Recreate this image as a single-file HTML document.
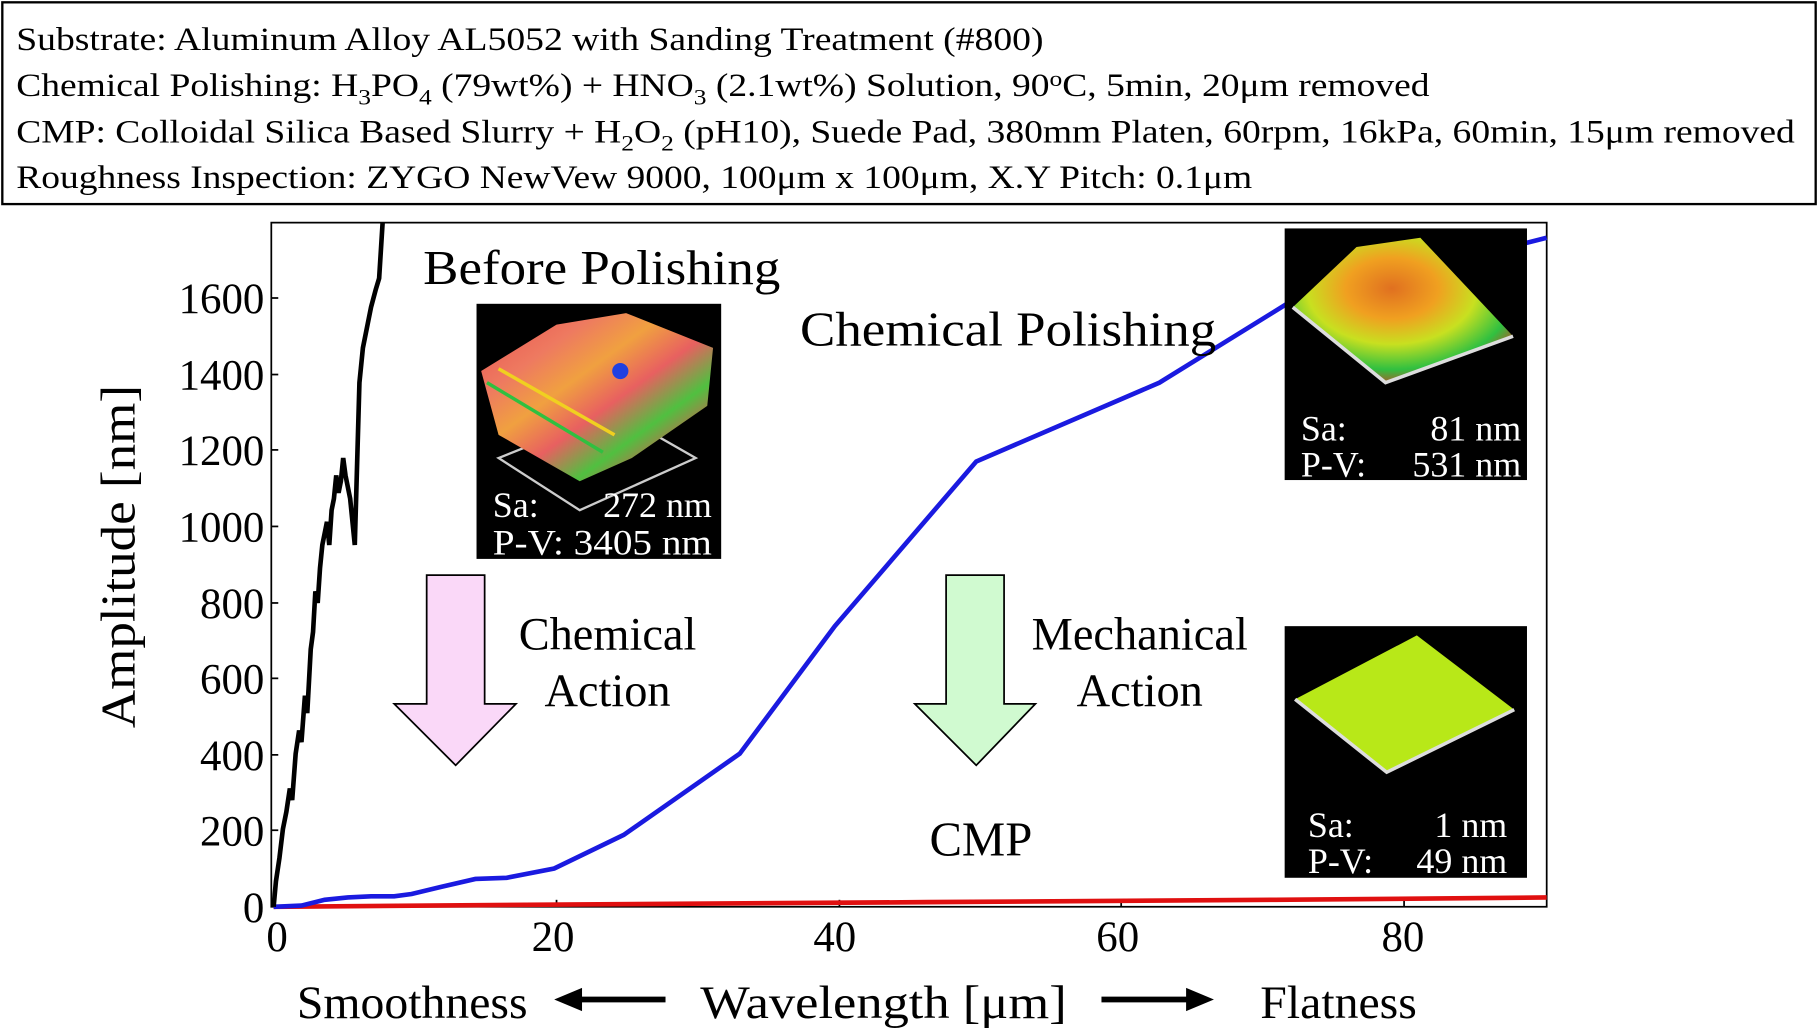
<!DOCTYPE html>
<html><head><meta charset="utf-8"><style>
html,body{margin:0;padding:0;background:#fff;overflow:hidden}
svg{display:block}
text{font-family:"Liberation Serif",serif}
.w{fill:#fff}
</style></head><body>
<svg width="1818" height="1032" viewBox="0 0 1568 890" preserveAspectRatio="none" xmlns="http://www.w3.org/2000/svg">
<defs>
<linearGradient id="rough" x1="0" y1="0" x2="1" y2="1">
<stop offset="0" stop-color="#e85050"/><stop offset="0.25" stop-color="#ee7a60"/><stop offset="0.4" stop-color="#f0a040"/><stop offset="0.55" stop-color="#e86060"/><stop offset="0.7" stop-color="#50c040"/><stop offset="0.85" stop-color="#e05050"/><stop offset="1" stop-color="#2040e0"/>
</linearGradient>
<radialGradient id="chem" cx="0.45" cy="0.35" r="0.7">
<stop offset="0" stop-color="#e07020"/><stop offset="0.3" stop-color="#f0a020"/><stop offset="0.55" stop-color="#c8e020"/><stop offset="0.8" stop-color="#30c040"/><stop offset="1" stop-color="#e03020"/>
</radialGradient>
</defs>
<rect x="2" y="2" width="1564" height="174" fill="#fff" stroke="#000" stroke-width="2"/>
<g font-size="28">
<text x="14" y="43" textLength="886" lengthAdjust="spacingAndGlyphs">Substrate:  Aluminum Alloy AL5052 with Sanding Treatment (#800)</text>
<text x="14" y="83" textLength="1219" lengthAdjust="spacingAndGlyphs">Chemical Polishing:  H<tspan font-size="19" dy="7">3</tspan><tspan dy="-7">PO</tspan><tspan font-size="19" dy="7">4</tspan><tspan dy="-7"> (79wt%) + HNO</tspan><tspan font-size="19" dy="7">3</tspan><tspan dy="-7"> (2.1wt%) Solution, 90</tspan><tspan font-size="19" dy="-9">o</tspan><tspan dy="9">C, 5min, 20μm removed</tspan></text>
<text x="14" y="123" textLength="1534" lengthAdjust="spacingAndGlyphs">CMP:  Colloidal Silica Based Slurry + H<tspan font-size="19" dy="7">2</tspan><tspan dy="-7">O</tspan><tspan font-size="19" dy="7">2</tspan><tspan dy="-7"> (pH10), Suede Pad, 380mm Platen, 60rpm, 16kPa, 60min, 15μm removed</tspan></text>
<text x="14" y="162" textLength="1066" lengthAdjust="spacingAndGlyphs">Roughness Inspection: ZYGO NewVew 9000, 100μm x 100μm, X.Y Pitch: 0.1μm</text>
</g>
<rect x="234" y="192" width="1100" height="590" fill="none" stroke="#000" stroke-width="1.5"/>
<g stroke="#000" stroke-width="1.5">
<line x1="234" y1="257" x2="240" y2="257"/><line x1="234" y1="323" x2="240" y2="323"/><line x1="234" y1="388" x2="240" y2="388"/><line x1="234" y1="454" x2="240" y2="454"/><line x1="234" y1="520" x2="240" y2="520"/><line x1="234" y1="585" x2="240" y2="585"/><line x1="234" y1="651" x2="240" y2="651"/><line x1="234" y1="716" x2="240" y2="716"/>
<line x1="480" y1="782" x2="480" y2="776"/><line x1="724" y1="782" x2="724" y2="776"/><line x1="967" y1="782" x2="967" y2="776"/><line x1="1211" y1="782" x2="1211" y2="776"/>
</g>
<g font-size="37" text-anchor="end">
<text x="228" y="270">1600</text><text x="228" y="336">1400</text><text x="228" y="401">1200</text><text x="228" y="467">1000</text><text x="228" y="533">800</text><text x="228" y="598">600</text><text x="228" y="664">400</text><text x="228" y="729">200</text><text x="228" y="795">0</text>
</g>
<g font-size="37" text-anchor="middle">
<text x="239" y="820">0</text><text x="477" y="820">20</text><text x="720" y="820">40</text><text x="964" y="820">60</text><text x="1210" y="820">80</text>
</g>
<text transform="translate(116,480) rotate(-90)" font-size="42" text-anchor="middle" textLength="296" lengthAdjust="spacingAndGlyphs">Amplitude [nm]</text>
<g font-size="40">
<text x="256" y="878" textLength="199" lengthAdjust="spacingAndGlyphs">Smoothness</text>
<text x="604" y="878" textLength="316" lengthAdjust="spacingAndGlyphs">Wavelength [μm]</text>
<text x="1087" y="878" textLength="135" lengthAdjust="spacingAndGlyphs">Flatness</text>
</g>
<line x1="500" y1="862" x2="574" y2="862" stroke="#000" stroke-width="5"/>
<polygon points="478,862 502,852 502,872" fill="#000"/>
<line x1="950" y1="862" x2="1025" y2="862" stroke="#000" stroke-width="5"/>
<polygon points="1047,862 1023,852 1023,872" fill="#000"/>
<polyline fill="none" stroke="#e01010" stroke-width="4" points="236,782 500,780 800,778 1100,776 1334,774"/>
<polyline fill="none" stroke="#1a1ae0" stroke-width="4" points="236,782 260,781 280,776 300,774 320,773 340,773 355,771 380,765 410,758 437,757 478,749 538,720 638,650 720,540 842,398 1000,330 1110,262 1334,205"/>
<polyline fill="none" stroke="#000" stroke-width="4" points="236,782 238,760 241,740 244,715 247,700 250,680 252,690 255,650 258,630 260,640 263,600 265,615 268,560 270,545 272,510 274,520 276,490 278,470 280,460 282,450 284,470 286,440 288,430 290,410 292,425 294,415 296,395 298,410 302,430 306,470 308,400 310,330 313,300 317,280 320,265 324,250 327,240 330,192"/>
<text x="365" y="245" font-size="42" textLength="308" lengthAdjust="spacingAndGlyphs">Before Polishing</text>
<text x="690" y="298" font-size="42" textLength="359" lengthAdjust="spacingAndGlyphs">Chemical Polishing</text>
<text x="524" y="560" font-size="40" text-anchor="middle">Chemical</text>
<text x="524" y="609" font-size="40" text-anchor="middle">Action</text>
<text x="983" y="560" font-size="40" text-anchor="middle">Mechanical</text>
<text x="983" y="609" font-size="40" text-anchor="middle">Action</text>
<text x="846" y="738" font-size="42" text-anchor="middle">CMP</text>
<polygon points="368,496 418,496 418,607 445,607 393,660 340,607 368,607" fill="#fad8f8" stroke="#000" stroke-width="1.5"/>
<polygon points="816,496 866,496 866,607 893,607 842,660 789,607 816,607" fill="#d0fad0" stroke="#000" stroke-width="1.5"/>
<rect x="411" y="262" width="211" height="220" fill="#000"/>
<polygon points="430,395 530,355 600,395 500,440" fill="none" stroke="#ccc" stroke-width="2"/>
<polygon points="415,320 480,280 540,270 615,300 610,350 545,395 500,415 430,375" fill="url(#rough)"/>
<polyline points="420,330 520,390" fill="none" stroke="#30c040" stroke-width="3"/>
<polyline points="430,318 530,375" fill="none" stroke="#f0d020" stroke-width="3"/>
<circle cx="535" cy="320" r="7" fill="#2040e0"/>
<g font-size="31">
<text class="w" x="425" y="446">Sa:</text><text class="w" x="614" y="446" text-anchor="end">272 nm</text>
<text class="w" x="425" y="478" textLength="189" lengthAdjust="spacingAndGlyphs">P-V: 3405 nm</text>
</g>
<rect x="1108" y="197" width="209" height="217" fill="#000"/>
<polygon points="1115,265 1170,213 1225,205 1305,290 1195,330" fill="url(#chem)"/>
<polyline points="1115,265 1195,330 1305,290" fill="none" stroke="#ddd" stroke-width="3"/>
<g font-size="31">
<text class="w" x="1122" y="380">Sa:</text><text class="w" x="1312" y="380" text-anchor="end">81 nm</text>
<text class="w" x="1122" y="411">P-V:</text><text class="w" x="1312" y="411" text-anchor="end">531 nm</text>
</g>
<rect x="1108" y="540" width="209" height="217" fill="#000"/>
<polygon points="1117,603 1222,548 1306,612 1196,666" fill="#b8e818"/>
<polyline points="1117,603 1196,666 1306,612" fill="none" stroke="#ddd" stroke-width="3"/>
<g font-size="31">
<text class="w" x="1128" y="722">Sa:</text><text class="w" x="1300" y="722" text-anchor="end">1 nm</text>
<text class="w" x="1128" y="753">P-V:</text><text class="w" x="1300" y="753" text-anchor="end">49 nm</text>
</g>
</svg>
</body></html>
